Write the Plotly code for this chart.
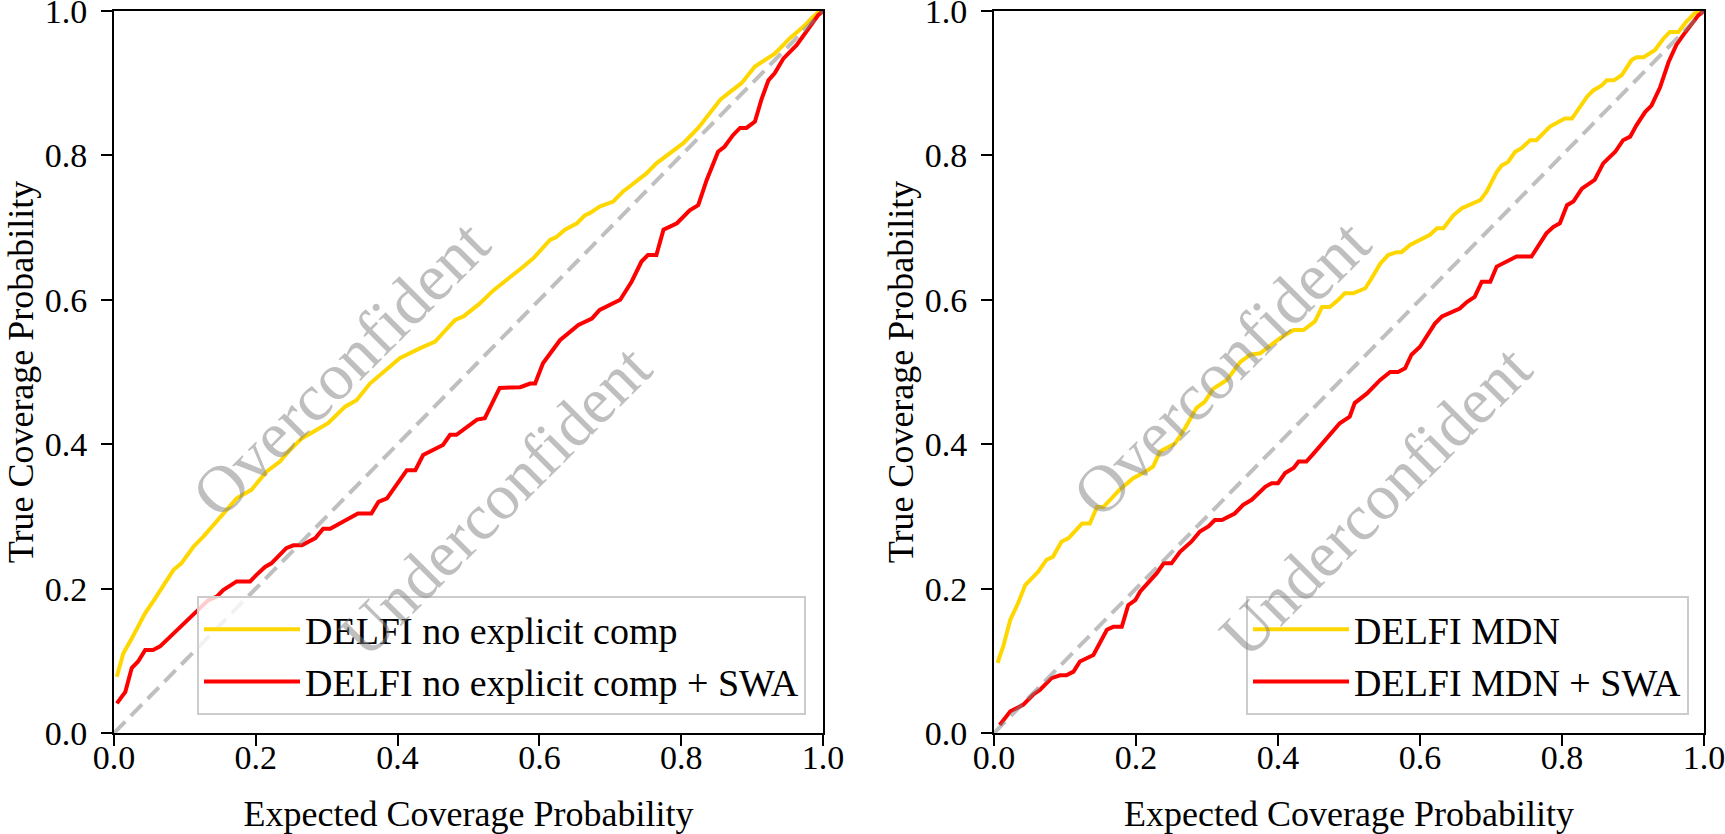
import plotly.graph_objects as go

# ---------------- data ----------------
left_yellow_x = [0.004, 0.013, 0.025, 0.034, 0.044, 0.055, 0.070, 0.084, 0.095, 0.112, 0.126, 0.145,
                 0.164, 0.173, 0.194, 0.215, 0.234, 0.248, 0.265, 0.302, 0.326, 0.342, 0.361, 0.385,
                 0.403, 0.432, 0.453, 0.464, 0.481, 0.493, 0.516, 0.535, 0.554, 0.575, 0.591, 0.615,
                 0.624, 0.636, 0.653, 0.664, 0.671, 0.685, 0.704, 0.718, 0.730, 0.751, 0.765, 0.784,
                 0.803, 0.824, 0.838, 0.855, 0.869, 0.885, 0.904, 0.916, 0.932, 0.953, 0.972, 0.984,
                 0.993, 1.000]
left_yellow_y = [0.078, 0.110, 0.131, 0.147, 0.166, 0.182, 0.205, 0.226, 0.235, 0.258, 0.272, 0.293,
                 0.313, 0.325, 0.337, 0.362, 0.376, 0.392, 0.408, 0.429, 0.452, 0.461, 0.484, 0.503,
                 0.519, 0.533, 0.542, 0.554, 0.572, 0.577, 0.595, 0.613, 0.627, 0.644, 0.657, 0.683,
                 0.687, 0.697, 0.706, 0.717, 0.720, 0.729, 0.736, 0.750, 0.759, 0.775, 0.789, 0.803,
                 0.817, 0.838, 0.856, 0.877, 0.888, 0.900, 0.923, 0.931, 0.941, 0.962, 0.978, 0.990,
                 0.998, 1.000]

left_red_x = [0.004, 0.016, 0.025, 0.034, 0.044, 0.055, 0.065, 0.079, 0.093, 0.102, 0.121, 0.133,
              0.145, 0.154, 0.173, 0.192, 0.201, 0.213, 0.222, 0.243, 0.253, 0.265, 0.284, 0.295,
              0.305, 0.323, 0.344, 0.363, 0.373, 0.385, 0.396, 0.413, 0.425, 0.436, 0.464, 0.474,
              0.483, 0.505, 0.512, 0.523, 0.535, 0.544, 0.573, 0.587, 0.594, 0.605, 0.629, 0.641,
              0.655, 0.674, 0.685, 0.714, 0.730, 0.744, 0.753, 0.765, 0.775, 0.794, 0.812, 0.824,
              0.836, 0.852, 0.861, 0.873, 0.883, 0.892, 0.904, 0.913, 0.923, 0.932, 0.944, 0.963,
              0.972, 0.982, 0.993, 1.000]
left_red_y = [0.041, 0.057, 0.090, 0.099, 0.115, 0.115, 0.120, 0.133, 0.147, 0.154, 0.173, 0.184,
              0.189, 0.198, 0.210, 0.210, 0.219, 0.230, 0.235, 0.256, 0.260, 0.260, 0.270, 0.283,
              0.283, 0.293, 0.304, 0.304, 0.320, 0.325, 0.341, 0.364, 0.364, 0.385, 0.399, 0.413,
              0.413, 0.429, 0.434, 0.436, 0.459, 0.478, 0.479, 0.484, 0.484, 0.512, 0.544, 0.553,
              0.565, 0.574, 0.586, 0.600, 0.625, 0.653, 0.662, 0.662, 0.697, 0.706, 0.724, 0.731,
              0.766, 0.805, 0.812, 0.828, 0.838, 0.838, 0.847, 0.877, 0.904, 0.914, 0.934, 0.953,
              0.965, 0.978, 0.994, 1.000]

right_yellow_x = [0.005, 0.013, 0.023, 0.034, 0.044, 0.062, 0.074, 0.083, 0.095, 0.105, 0.124, 0.135,
                  0.145, 0.154, 0.177, 0.196, 0.210, 0.224, 0.234, 0.255, 0.269, 0.285, 0.297, 0.309,
                  0.328, 0.347, 0.361, 0.375, 0.403, 0.422, 0.436, 0.452, 0.462, 0.473, 0.485, 0.494,
                  0.506, 0.523, 0.532, 0.544, 0.555, 0.567, 0.574, 0.586, 0.614, 0.624, 0.633, 0.647,
                  0.659, 0.685, 0.694, 0.708, 0.715, 0.724, 0.734, 0.743, 0.755, 0.764, 0.783, 0.804,
                  0.814, 0.835, 0.844, 0.856, 0.863, 0.873, 0.884, 0.898, 0.905, 0.915, 0.931, 0.943,
                  0.952, 0.964, 0.975, 0.987, 1.000]
right_yellow_y = [0.097, 0.120, 0.157, 0.180, 0.205, 0.223, 0.240, 0.244, 0.265, 0.270, 0.290, 0.290,
                  0.313, 0.313, 0.337, 0.353, 0.360, 0.369, 0.390, 0.401, 0.422, 0.450, 0.459, 0.477,
                  0.489, 0.514, 0.524, 0.526, 0.547, 0.558, 0.558, 0.570, 0.590, 0.590, 0.600, 0.609,
                  0.609, 0.616, 0.630, 0.650, 0.662, 0.666, 0.666, 0.676, 0.690, 0.699, 0.699, 0.717,
                  0.727, 0.738, 0.750, 0.777, 0.786, 0.791, 0.805, 0.810, 0.821, 0.821, 0.840, 0.851,
                  0.851, 0.881, 0.890, 0.897, 0.904, 0.904, 0.911, 0.932, 0.936, 0.936, 0.946, 0.962,
                  0.971, 0.971, 0.985, 0.997, 1.000]

right_red_x = [0.008, 0.023, 0.041, 0.055, 0.065, 0.081, 0.093, 0.102, 0.112, 0.121, 0.140, 0.149,
               0.159, 0.168, 0.180, 0.189, 0.199, 0.206, 0.229, 0.239, 0.250, 0.262, 0.278, 0.290,
               0.302, 0.311, 0.321, 0.339, 0.351, 0.363, 0.382, 0.391, 0.400, 0.410, 0.422, 0.429,
               0.440, 0.450, 0.466, 0.487, 0.501, 0.508, 0.525, 0.544, 0.558, 0.569, 0.579, 0.588,
               0.600, 0.621, 0.631, 0.656, 0.666, 0.677, 0.687, 0.699, 0.708, 0.736, 0.757, 0.778,
               0.788, 0.797, 0.807, 0.816, 0.828, 0.846, 0.858, 0.875, 0.886, 0.896, 0.905, 0.917,
               0.926, 0.938, 0.950, 0.961, 0.971, 0.980, 0.992, 1.000]
right_red_y = [0.011, 0.030, 0.039, 0.053, 0.060, 0.076, 0.080, 0.080, 0.085, 0.099, 0.108, 0.126,
               0.143, 0.147, 0.147, 0.177, 0.184, 0.196, 0.221, 0.235, 0.235, 0.251, 0.265, 0.279,
               0.286, 0.295, 0.295, 0.304, 0.316, 0.323, 0.341, 0.346, 0.346, 0.360, 0.367, 0.376,
               0.376, 0.387, 0.406, 0.429, 0.438, 0.457, 0.470, 0.489, 0.500, 0.500, 0.505, 0.524,
               0.535, 0.567, 0.577, 0.588, 0.597, 0.604, 0.625, 0.625, 0.646, 0.660, 0.660, 0.692,
               0.701, 0.706, 0.731, 0.736, 0.754, 0.766, 0.789, 0.805, 0.821, 0.826, 0.842, 0.860,
               0.869, 0.894, 0.929, 0.953, 0.967, 0.978, 0.994, 1.000]

diag = [0.0, 1.0]
tick_vals = [0.0, 0.2, 0.4, 0.6, 0.8, 1.0]
tick_text = ["0.0", "0.2", "0.4", "0.6", "0.8", "1.0"]
left_names = ["DELFI no explicit comp", "DELFI no explicit comp + SWA"]
right_names = ["DELFI MDN", "DELFI MDN + SWA"]
label_over = "Overconfident"
label_under = "Underconfident"
x_title = "Expected Coverage Probability"
y_title = "True Coverage Probability"

# ---------------- figure ----------------
FONT = "Liberation Serif, Times New Roman, serif"
YELLOW = "#FFD700"
RED = "#FF0000"
DIAG = "rgba(128,128,128,0.5)"
TXT_GRAY = "rgba(128,128,128,0.5)"

fig = go.Figure()

panels = [
    ("x", "y", "legend", left_yellow_x, left_yellow_y, left_red_x, left_red_y, left_names),
    ("x2", "y2", "legend2", right_yellow_x, right_yellow_y, right_red_x, right_red_y, right_names),
]
for xa, ya, lg, yx, yy, rx, ry, names in panels:
    fig.add_trace(go.Scatter(x=yx, y=yy, mode="lines", name=names[0], xaxis=xa, yaxis=ya,
                             legend=lg, line=dict(color=YELLOW, width=4)))
    fig.add_trace(go.Scatter(x=rx, y=ry, mode="lines", name=names[1], xaxis=xa, yaxis=ya,
                             legend=lg, line=dict(color=RED, width=4)))
    fig.add_trace(go.Scatter(x=diag, y=diag, mode="lines", showlegend=False, xaxis=xa, yaxis=ya,
                             line=dict(color=DIAG, width=4, dash="16px,8px"), hoverinfo="skip"))

W, H = 1725, 834
dom_left = [114 / W, 823 / W]
dom_right = [994 / W, 1704 / W]
dom_y = [1 - 733 / H, 1 - 11 / H]

axis_common = dict(
    range=[0, 1], tickvals=tick_vals, ticktext=tick_text,
    showline=True, mirror=True, linecolor="black", linewidth=2,
    ticks="outside", ticklen=11, tickwidth=2, tickcolor="black",
    showgrid=False, zeroline=False, automargin=False,
    tickfont=dict(family=FONT, size=34, color="black"),
    ticklabeloverflow="allow",
)

title_font = dict(family=FONT, size=36, color="black")
legend_common = dict(
    xanchor="right", yanchor="bottom",
    bgcolor="rgba(255,255,255,0.8)", bordercolor="#cccccc", borderwidth=2,
    font=dict(family=FONT, size=38, color="black"), tracegroupgap=0, itemwidth=96,
)

xaxis_cfg = dict(axis_common, ticklabelstandoff=-18,
                 title=dict(text=x_title, font=title_font, standoff=50))
yaxis_cfg = dict(axis_common, ticklabelstandoff=7,
                 title=dict(text=y_title, font=title_font, standoff=0))

fig.update_layout(
    width=W, height=H,
    margin=dict(l=0, r=0, t=0, b=0),
    paper_bgcolor="white", plot_bgcolor="white",
    font=dict(family=FONT, size=34, color="black"),
    xaxis=dict(domain=dom_left, anchor="y", **xaxis_cfg),
    yaxis=dict(domain=dom_y, anchor="x", **yaxis_cfg),
    xaxis2=dict(domain=dom_right, anchor="y2", **xaxis_cfg),
    yaxis2=dict(domain=dom_y, anchor="x2", **yaxis_cfg),
    legend=dict(x=806 / W, y=1 - 715 / H, **legend_common),
    legend2=dict(x=1689 / W, y=1 - 715 / H, **legend_common),
    showlegend=True,
)

for xr, yr in [("x", "y"), ("x2", "y2")]:
    fig.add_annotation(x=0.32, y=0.505, xref=xr, yref=yr, text=label_over, showarrow=False,
                       textangle=-45, font=dict(family=FONT, size=67, color=TXT_GRAY))
    fig.add_annotation(x=0.537, y=0.322, xref=xr, yref=yr, text=label_under, showarrow=False,
                       textangle=-45, font=dict(family=FONT, size=65, color=TXT_GRAY))

fig.write_html("out.html")
